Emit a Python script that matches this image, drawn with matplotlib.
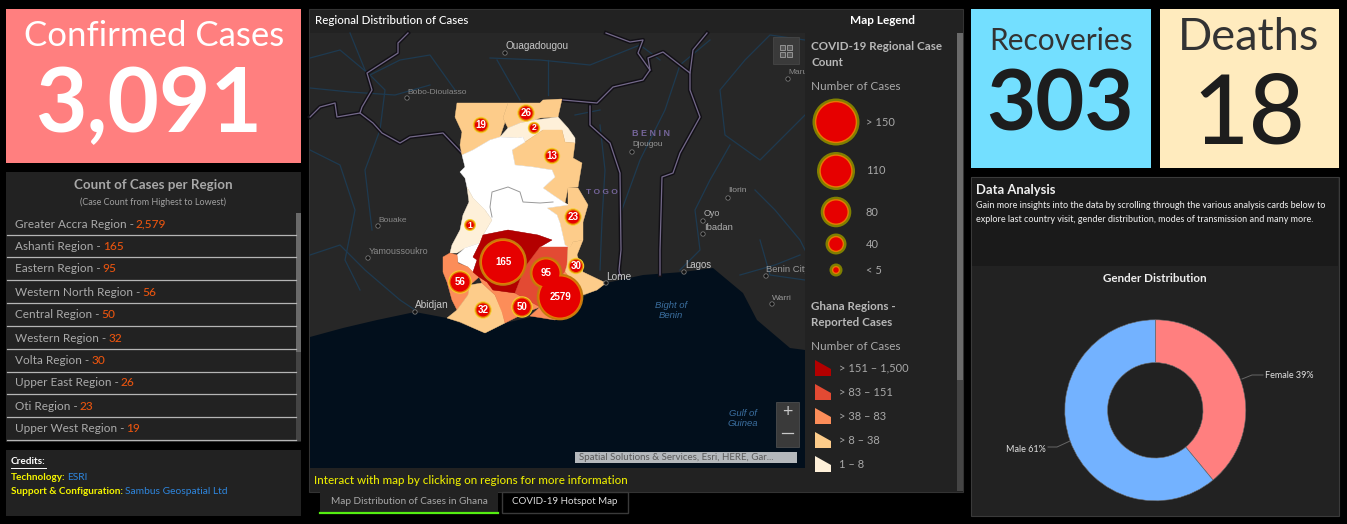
import matplotlib
matplotlib.use("Agg")
import matplotlib.pyplot as plt
from matplotlib.patches import Rectangle, Polygon, Circle

W, H = 1347, 524
plt.rcParams['font.family'] = ['Lato', 'DejaVu Sans']

# ---------- data ----------
region_names = ["Greater Accra Region", "Ashanti Region", "Eastern Region", "Western North Region",
                "Central Region", "Western Region", "Volta Region", "Upper East Region",
                "Oti Region", "Upper West Region"]
region_values = ["2,579", "165", "95", "56", "50", "32", "30", "26", "23", "19"]
gender_labels = ["Female", "Male"]
gender_values = [39, 61]
gender_colors = ["#ff7f7f", "#73b2ff"]

bubble_counts = [19, 26, 2, 13, 23, 1, 165, 95, 30, 56, 2579, 32, 50]
bubble_x = [481, 526, 534, 552, 573, 470, 503, 546, 576, 460, 560, 483, 522]
bubble_y = [125, 113, 128, 156, 217, 225, 262, 273, 266, 282, 297, 310, 307]
bubble_r = [6, 6.5, 4, 6, 6.5, 3.8, 21, 13.5, 6, 9.5, 20.5, 6.5, 8.5]

legend_sizes = ["> 150", "110", "80", "40", "< 5"]
legend_size_y = [122, 171, 212, 244, 270]
legend_size_r = [23.5, 19, 15.3, 10.5, 6.5]
legend_classes = ["> 151 – 1,500", "> 83 – 151", "> 38 – 83", "> 8 – 38", "1 – 8"]
class_colors = ["#b30000", "#e34a33", "#fc8d59", "#fdcc8a", "#fef0d9"]
class_y = [368, 392, 416, 440, 464]

regions = {
 "upper_west": ("#fdcc8a", [(457,103),(508,103),(503,118),(505,122),(500,137),(490,140),(473,150),(462,155),(460,145),(462,132),(455,117)]),
 "upper_east": ("#fdcc8a", [(508,103),(540,103),(543,100),(562,99),(558,117),(540,118),(535,120),(520,123),(508,128),(503,118)]),
 "north_east": ("#fef0d9", [(500,137),(508,128),(520,123),(535,120),(558,117),(568,128),(575,138),(575,143),(565,142),(562,130),(543,130),(525,142),(523,137),(518,138)]),
 "northern": ("#fdcc8a", [(525,142),(543,130),(562,130),(565,142),(575,143),(573,158),(582,163),(578,187),(568,188),(565,203),(568,205),(553,195),(543,188),(555,177),(552,170),(533,167),(515,165),(512,150),(520,145)]),
 "oti": ("#fdcc8a", [(568,188),(578,188),(588,205),(583,222),(583,240),(573,242),(570,248),(565,245),(560,223),(557,215),(547,208),(568,205)]),
 "savannah": ("#ffffff", [(462,155),(473,150),(490,140),(500,137),(518,138),(523,137),(525,142),(520,145),(512,150),(515,165),(533,167),(552,170),(555,177),(543,188),(553,195),(568,205),(547,208),(557,215),(560,223),(565,245),(570,248),(540,247),(552,240),(538,235),(508,230),(483,235),(492,220),(485,210),(473,198),(467,187),(465,178),(460,172),(465,167)]),
 "bono": ("#fef0d9", [(467,187),(473,198),(485,210),(492,220),(483,235),(480,243),(465,248),(457,253),(450,253),(452,245),(460,230),(463,215),(469,202)]),
 "ahafo": ("#ffffff", [(457,255),(465,248),(480,243),(473,257),(477,260),(473,272),(468,267),(458,262)]),
 "western_north": ("#fc8d59", [(443,257),(450,253),(457,255),(458,263),(468,267),(473,272),(479,277),(470,285),(468,295),(457,310),(452,300),(447,282),(443,272)]),
 "western": ("#fdcc8a", [(457,310),(468,295),(470,285),(482,283),(495,295),(502,310),(505,323),(485,333),(478,330),(460,322),(447,318)]),
 "central": ("#fc8d59", [(479,277),(482,283),(495,295),(502,312),(505,323),(527,312),(540,307),(515,293),(493,290),(487,282)]),
 "ashanti": ("#b30000", [(473,272),(477,260),(473,257),(480,243),(483,235),(508,230),(538,235),(552,240),(540,247),(525,267),(515,293),(493,290),(487,282),(479,277)]),
 "eastern": ("#e34a33", [(540,247),(568,247),(567,265),(565,272),(550,288),(540,307),(515,293),(525,267)]),
 "volta": ("#fdcc8a", [(570,247),(573,242),(583,240),(577,255),(583,272),(606,283),(597,290),(583,295),(565,272),(567,265),(568,247)]),
 "accra": ("#fc8d59", [(565,272),(583,295),(577,310),(555,320),(530,316),(540,307),(550,288)]),
}
savannah_inner = [[(492,217),(490,207),(492,192),(508,187),(520,192),(523,202),(540,203),(553,202)]]
land_edge = [(310,337),(343,328),(377,320),(415,312),(447,318),(485,333),(505,323),(540,315),(583,297),(606,283),(643,275),(683,272),(713,268),(743,293),(757,320),(790,348),(805,350)]

borders = [
 [(310,117),(320,107),(335,103),(337,117),(360,113),(373,123),(382,133),(400,143),(410,137),(443,133),(462,153)],
 [(408,33),(398,43),(398,53),(367,73),(372,90),(362,107),(360,113)],
 [(606,33),(630,42),(643,40),(638,53),(650,70),(643,80),(613,87),(597,103),(563,100)],
 [(590,106),(590,125),(610,143),(620,173),(621,250),(619,270),(620,276)],
 [(707,33),(693,50),(690,73),(663,52),(648,58),(650,70)],
 [(690,73),(690,90),(700,117),(680,153),(673,173),(662,177),(660,250),(660,275)],
]
rivers = [
 [(310,58),(340,50),(370,75),(400,60),(430,55),(455,90)],
 [(350,33),(365,70),(385,90),(380,130),(365,170),(372,230)],
 [(490,58),(540,60),(590,65),(640,45),(660,60)],
 [(310,88),(350,92),(395,95),(430,85)],
 [(497,60),(520,100)],[(548,60),(548,95)],
 [(600,110),(575,115)],
 [(710,40),(680,65),(665,110),(640,160),(620,215)],
 [(805,40),(770,35),(745,60),(720,90),(725,135),(760,160),(790,130),(805,115)],
 [(730,145),(710,180),(695,210),(700,250),(680,270)],
 [(600,125),(605,170),(602,220),(600,270)],
 [(755,190),(775,210),(800,240),(805,250)],
 [(310,255),(340,245),(365,270),(400,300),(415,310)],
 [(310,150),(340,165),(355,210),(345,260),(360,290)],
 [(760,240),(770,275),(805,280)],
 [(740,275),(775,265),(800,255)],
]
cities = [("Ouagadougou",505,53,506,46,"#c8c8c8",7.2),("Bobo-Dioulasso",407,98,407,92,"#8a8a8a",6),
          ("Bouake",378,226,378,220,"#8a8a8a",6),("Djougou",632,152,632,145,"#9a9a9a",5.9),
          ("Ilorin",728,198,728,191,"#9a9a9a",6),("Oyo",703,221,704,214,"#b0b0b0",6.5),
          ("Ibadan",703,234,704,227,"#b0b0b0",6.8),("Maru",788,79,788,73,"#8a8a8a",6),
          ("Yamoussoukro",368,258,369,252,"#8a8a8a",6.5),("Abidjan",415,312,415,305,"#c8c8c8",7.3),
          ("Lome",606,283,606,277,"#c8c8c8",7.3),("Lagos",684,272,685,265,"#c8c8c8",6.9),
          ("Benin City",766,276,766,269,"#9a9a9a",6.8),("Warri",772,304,772,298,"#9a9a9a",6)]

# ---------- canvas ----------
fig = plt.figure(figsize=(W/100, H/100), dpi=100, facecolor="black")
ax = fig.add_axes([0, 0, 1, 1])
ax.set_xlim(0, W); ax.set_ylim(H, 0); ax.axis("off")
rend = fig.canvas.get_renderer()

def box(x0, y0, x1, y1, c, z=1, ec="none", lw=0):
    ax.add_patch(Rectangle((x0, y0), x1-x0, y1-y0, fc=c, ec=ec, lw=lw, zorder=z))

def txt(x, y, s, c="#fff", size=9, ha="left", w="normal", z=6, **k):
    return ax.text(x, y, s, color=c, fontsize=size, ha=ha, va="center", fontweight=w, zorder=z, **k)

# KPI cards
box(6, 9, 301, 163, "#ff7f7f")
txt(154, 36, "Confirmed Cases", "#fff", 25, "center")
txt(149, 106, "3,091", "#fff", 64, "center", "bold")
box(971, 9, 1151, 168, "#73dfff")
txt(1061, 41, "Recoveries", "#333333", 21.5, "center")
txt(1060, 106, "303", "#1d1d1d", 61, "center", "bold")
box(1160, 9, 1339, 168, "#ffebbe")
txt(1249, 37, "Deaths", "#333333", 32.5, "center")
txt(1249, 116, "18", "#1d1d1d", 70, "center", "medium")

# list panel
box(6, 172, 301, 441.5, "#222222")
txt(153, 185, "Count of Cases per Region", "#a8a8a8", 9.6, "center", "bold")
txt(153, 202, "(Case Count from Highest to Lowest)", "#a0a0a0", 6.5, "center")
box(296, 213, 301, 441, "#444444"); box(296, 213, 301, 352, "#6a6a6a")
row_y = [224, 247, 269, 292, 315, 338, 361, 383, 406, 429]
line_y = [235, 257, 280, 303, 326, 349, 372, 394, 417, 440]
for n, v, y, ly in zip(region_names, region_values, row_y, line_y):
    t = txt(15, y, n + " - ", "#ababab", 8.5)
    txt(t.get_window_extent(rend).x1 - 1, y, v, "#e8540f", 8.6, w="medium")
    ax.plot([7, 296], [ly, ly], color="#b5b5b5", lw=0.9, zorder=2)

# credits
box(6, 450, 301, 516, "#222222")
t = txt(11, 462, "Credits:", "#ffffff", 7.2, w="bold")
ax.plot([11, 46], [468, 468], color="#fff", lw=0.7, zorder=6)
t = txt(11, 477, "Technology:", "#f5f500", 7.2, w="bold")
txt(t.get_window_extent(rend).x1 + 2, 477, "ESRI", "#2e86de", 7.4)
t = txt(11, 491, "Support & Configuration:", "#f5f500", 7.2, w="bold")
txt(t.get_window_extent(rend).x1 + 2, 491, "Sambus Geospatial Ltd", "#2e86de", 7.4)

# map panel
box(309, 9, 963, 492, "#222222", ec="#333333", lw=0.8)
txt(315, 21, "Regional Distribution of Cases", "#ffffff", 8.3, w="medium")
box(310, 33, 805, 468, "#020f1c", z=1.05)
ax.add_patch(Polygon([(310, 33), (805, 33)] + land_edge[::-1], fc="#272727", ec="none", zorder=1.1))
for r in rivers:
    ax.plot(*zip(*r), color="#1e3a50", lw=0.9, zorder=1.2)
for b in borders:
    ax.plot(*zip(*b), color="#121016", lw=3, zorder=1.3)
    ax.plot(*zip(*b), color="#74698a", lw=0.9, zorder=1.31)
for name, (col, pts) in regions.items():
    ax.add_patch(Polygon(pts, fc=col, ec=col, lw=0.3, zorder=1.5))
for seg in savannah_inner:
    ax.plot(*zip(*seg), color="#999999", lw=0.7, zorder=1.55)
for n, dx, dy, lx, ly, c, s in cities:
    ax.add_patch(Circle((dx, dy), 2.2, fc="#111", ec="#777", lw=0.6, zorder=1.6))
    txt(lx, ly, n, c, s, z=1.7, family="Liberation Sans")
txt(651, 134, "B E N I N", "#75659a", 6.5, "center", "bold", z=1.7, family="Liberation Sans")
txt(602, 192, "T O G O", "#75659a", 6, "center", "bold", z=1.7, family="Liberation Sans")
for s, y in (("Bight of", 306), ("Benin", 316)):
    txt(671, y, s, "#3b6fa0", 6.8, "center", style="italic", z=1.7, family="Liberation Sans")
for s, y in (("Gulf of", 414), ("Guinea", 424)):
    txt(743, y, s, "#3b6fa0", 6.8, "center", style="italic", z=1.7, family="Liberation Sans")

for c, x, y, r in zip(bubble_counts, bubble_x, bubble_y, bubble_r):
    big = r > 12
    ax.add_patch(Circle((x, y), r + (2.8 if big else 2.2), fc="#c07a10" if big else "#f5d030", ec="none", zorder=2))
    ax.add_patch(Circle((x, y), r + 1.2, fc="#e67800", ec="none", zorder=2.1))
    ax.add_patch(Circle((x, y), r, fc="#e60000", ec="none", zorder=2.2))
    txt(x, y, str(c), "#ffffff", 7 if c >= 10 else 6.2, "center", "bold", z=2.4, family="Liberation Sans")

# map widgets
box(773, 37, 799, 64, "#3a3a3a", z=2.5, ec="#4a4a4a", lw=0.5)
for gx in (782.5, 789.5):
    for gy in (47, 54):
        ax.add_patch(Rectangle((gx-2.5, gy-2.5), 5, 5, fc="#555555", ec="#b0b0b0", lw=0.5, zorder=2.6))
box(776, 402, 799, 447, "#3a3a3a", z=2.5, ec="#555", lw=0.5)
txt(787.5, 412, "+", "#c8c8c8", 13, "center", z=2.6)
ax.plot([782, 793], [433, 433], color="#c8c8c8", lw=0.9, zorder=2.6)
box(575, 452, 797, 463, "#b4b8bc", z=2.5)
txt(579, 457.5, "Spatial Solutions & Services, Esri, HERE, Gar...", "#5a5a5a", 7, z=2.6)
txt(314, 480, "Interact with map by clicking on regions for more information", "#e8e800", 8.4, w="medium", z=2.6)

# legend
box(805, 10, 963, 491, "#222222", z=4)
box(957, 33, 963, 491, "#444444", z=4.1); box(957, 33, 963, 380, "#6a6a6a", z=4.2)
txt(883, 21, "Map Legend", "#ffffff", 8.5, "center", "bold")
txt(811, 46, "COVID-19 Regional Case", "#b8b8b8", 8.4, w="bold")
txt(811, 62, "Count", "#b8b8b8", 8.4, w="bold")
txt(811, 86, "Number of Cases", "#a8a8a8", 8.5)
for s, y, r in zip(legend_sizes, legend_size_y, legend_size_r):
    ax.add_patch(Circle((836, y), r, fc="#808000", ec="none", zorder=5))
    ax.add_patch(Circle((836, y), r - 2.4, fc="#e67800", ec="none", zorder=5.1))
    ax.add_patch(Circle((836, y), r - 3.8, fc="#e60000", ec="none", zorder=5.2))
    txt(866, y, s, "#a8a8a8", 8)
txt(811, 307, "Ghana Regions -", "#b8b8b8", 8.4, w="bold")
txt(811, 323, "Reported Cases", "#b8b8b8", 8.4, w="bold")
txt(811, 347, "Number of Cases", "#a8a8a8", 8.5)
for s, c, y in zip(legend_classes, class_colors, class_y):
    ax.add_patch(Polygon([(815, y-8), (831, y+1), (831, y+8), (815, y+8)], fc=c, ec="none", zorder=5))
    txt(839, y, s, "#a8a8a8", 8)

# tabs
box(320, 492, 498, 514, "#222222", z=1)
ax.plot([320, 498], [513, 513], color="#55ee11", lw=1.6, zorder=2)
txt(409, 502, "Map Distribution of Cases in Ghana", "#a8a8a8", 7.2, "center")
box(502, 492, 628, 513, "#000000", z=1, ec="#3a3a3a", lw=1)
txt(565, 502, "COVID-19 Hotspot Map", "#dedede", 7, "center")

# analysis panel
box(971, 177, 1339, 516, "#222222", ec="#3a3a3a", lw=0.8)
box(972, 178, 1338, 266, "#1a1a1a", z=1.1)
txt(976, 190, "Data Analysis", "#f0f0f0", 9.4, w="bold")
txt(976, 205, "Gain more insights into the data by scrolling through the various analysis cards below to", "#e8e8e8", 6.5, w="medium")
txt(976, 219, "explore last country visit, gender distribution, modes of transmission and many more.", "#e8e8e8", 6.5, w="medium")
txt(1155, 278, "Gender Distribution", "#eeeeee", 8.4, "center", "bold")

cx, cy, R, r_in = 1155.3, 410.3, 90.5, 47.7
pie_ax = fig.add_axes([(cx-R)/W, 1-(cy+R)/H, 2*R/W, 2*R/H])
pie_ax.pie(gender_values, colors=gender_colors, startangle=90, counterclock=False, radius=1,
           wedgeprops=dict(width=1-r_in/R, edgecolor="#666666", linewidth=0.4))
pie_ax.set_xlim(-1, 1); pie_ax.set_ylim(-1, 1); pie_ax.patch.set_alpha(0)
ax.plot([1242, 1252, 1263], [379, 375, 375], color="#666", lw=0.7, zorder=2)
ax.plot([1048, 1057, 1070], [447, 447, 441], color="#666", lw=0.7, zorder=2)
txt(1265, 376, f"{gender_labels[0]} {gender_values[0]}%", "#e0e0e0", 6.5)
txt(1006, 449, f"{gender_labels[1]} {gender_values[1]}%", "#e0e0e0", 6.5)

fig.savefig("out.png", dpi=100, facecolor="black")
